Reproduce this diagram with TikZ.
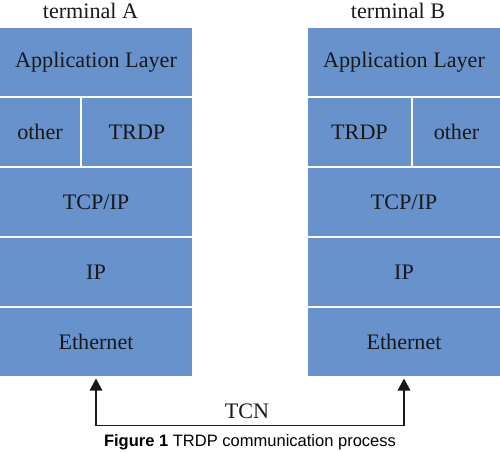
\documentclass[tikz,border=0pt]{standalone}
\usepackage{fontspec}
\setmainfont{Liberation Serif}
\newfontfamily\capfont{Liberation Sans}
\usetikzlibrary{arrows.meta}
\definecolor{layerblue}{RGB}{104,146,204}
\definecolor{textdark}{RGB}{25,25,25}

\begin{document}
\begin{tikzpicture}[
	layer/.style={rectangle, fill=layerblue, minimum height=1.36cm, inner sep=0pt, outer sep=0pt, text=textdark, font=\fontsize{12.6}{14}\selectfont},
	label/.style={text=textdark, inner sep=0pt, font=\fontsize{12.6}{14}\selectfont},
	busline/.style={{Triangle[width=0.25cm,length=0.24cm]}-{Triangle[width=0.25cm,length=0.24cm]}, line width=0.03cm, draw=textdark, shorten <=0.05cm, shorten >=0.05cm}
	]
	\useasboundingbox (0,0) rectangle (10,-9.02);

	% terminal A
	\node[label] (termA) at (1.81,-0.22) {terminal A};
	\node[layer, minimum width=3.84cm] (appA) at (1.92,-1.24) {\raisebox{-0.05cm}{Application Layer}};
	\node[layer, minimum width=1.6cm] (otherA) at (0.8,-2.64) {\raisebox{-0.05cm}{other}};
	\node[layer, minimum width=2.2cm] (trdpA) at (2.74,-2.64) {\raisebox{-0.05cm}{TRDP}};
	\node[layer, minimum width=3.84cm] (tcpA) at (1.92,-4.04) {TCP/IP};
	\node[layer, minimum width=3.84cm] (ipA) at (1.92,-5.44) {IP};
	\node[layer, minimum width=3.84cm] (ethA) at (1.92,-6.84) {Ethernet};

	% terminal B
	\node[label] (termB) at (7.96,-0.22) {terminal B};
	\node[layer, minimum width=3.84cm] (appB) at (8.08,-1.24) {\raisebox{-0.05cm}{Application Layer}};
	\node[layer, minimum width=2.06cm] (trdpB) at (7.19,-2.64) {\raisebox{-0.05cm}{TRDP}};
	\node[layer, minimum width=1.74cm] (otherB) at (9.13,-2.64) {\raisebox{-0.05cm}{other}};
	\node[layer, minimum width=3.84cm] (tcpB) at (8.08,-4.04) {TCP/IP};
	\node[layer, minimum width=3.84cm] (ipB) at (8.08,-5.44) {IP};
	\node[layer, minimum width=3.84cm] (ethB) at (8.08,-6.84) {Ethernet};

	% network between the terminals
	\coordinate (bus) at (5,-8.51);
	\draw[busline] (ethA.south) |- (bus) -| (ethB.south);
	\node[label] (tcn) at (4.94,-8.22) {TCN};

	\node[inner sep=0pt, text=black, font=\capfont\fontsize{9.4}{11}\selectfont] (caption) at (5,-8.85) {\textbf{Figure 1} TRDP communication process};
\end{tikzpicture}
\end{document}
